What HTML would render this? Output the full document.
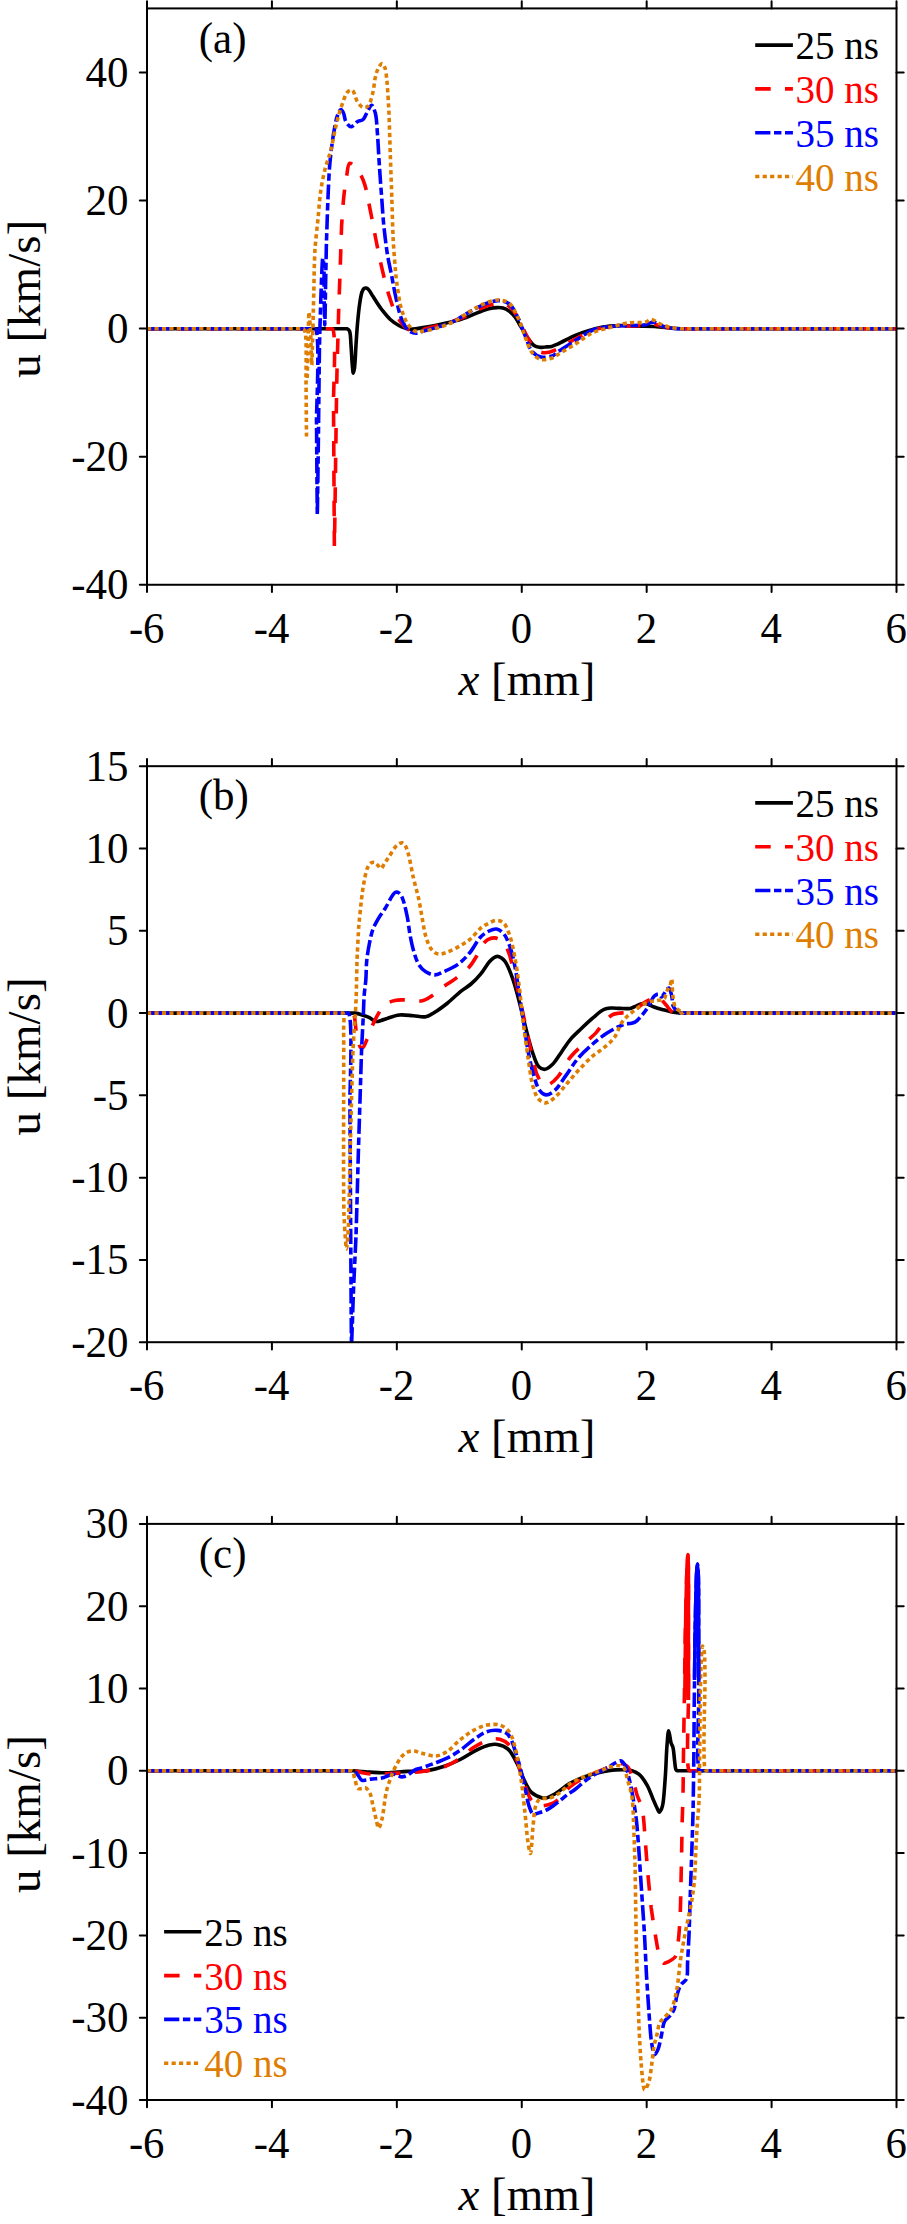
<!DOCTYPE html><html><head><meta charset="utf-8"><style>html,body{margin:0;padding:0;background:#fff;}svg{display:block;}text{font-family:"Liberation Serif","Times New Roman",serif;}</style></head><body>
<svg width="907" height="2224" viewBox="0 0 907 2224">
<rect width="907" height="2224" fill="#fff"/>
<clipPath id="clipa"><rect x="147.0" y="8.42" width="749.5" height="576.34"/></clipPath>
<g clip-path="url(#clipa)" stroke-linejoin="round">
<path d="M147.0,328.8L347.3,328.8C348.2,329.2 349.1,330.1 349.5,331.0C350.7,333.6 350.6,339.9 351.0,345.0C351.5,351.1 351.8,359.8 352.3,365.0C352.6,368.2 352.9,373.1 353.3,373.1C353.6,373.1 354.2,370.0 354.5,368.0C355.2,363.1 355.5,352.4 356.0,345.0C356.5,338.1 356.8,331.7 357.4,325.0C358.0,318.3 358.6,310.9 359.5,305.0C360.2,300.2 360.9,294.9 362.0,292.0C362.5,290.5 363.2,289.1 364.0,288.5C364.6,288.1 365.3,287.9 366.0,288.0C366.8,288.1 367.7,288.7 368.5,289.5C370.0,290.9 371.3,293.9 373.1,296.6C375.5,300.3 378.7,305.6 381.7,309.5C384.5,313.1 387.2,316.7 390.3,319.5C393.0,322.0 396.2,324.0 398.9,325.5C401.0,326.7 403.0,327.4 405.0,328.0C406.9,328.6 408.4,329.1 410.6,329.2C414.5,329.3 421.1,327.9 426.5,327.0C432.2,326.0 438.2,324.8 444.1,323.5C450.0,322.2 455.9,321.0 461.7,319.1C467.7,317.2 474.2,313.9 479.4,312.0C483.4,310.6 486.8,309.2 490.0,308.5C492.5,307.9 494.8,307.7 497.0,307.6C499.1,307.5 501.0,307.5 503.0,308.0C505.2,308.6 507.4,309.8 509.4,311.2C511.5,312.7 513.3,314.8 515.0,317.0C516.9,319.4 518.1,322.2 520.0,325.3C522.5,329.4 526.1,335.7 528.8,339.4C530.6,341.9 532.0,344.2 534.0,345.5C535.6,346.6 537.6,347.1 539.4,347.3C541.2,347.5 543.1,347.1 545.0,347.0C547.1,346.8 549.6,346.9 551.7,346.4C553.8,345.9 555.3,345.1 557.6,344.1C562.0,342.2 569.9,337.6 575.3,335.3C579.7,333.4 583.3,332.2 587.6,330.9C592.1,329.5 596.7,328.2 601.7,327.3C607.2,326.3 613.5,325.8 619.4,325.6C625.3,325.4 631.1,326.0 637.0,326.1C642.9,326.3 648.8,326.1 654.7,326.5C660.6,326.9 667.4,327.8 672.3,328.2C675.7,328.5 678.9,328.7 681.1,328.8L896.5,328.8" stroke="#000" stroke-width="3.6" fill="none"/>
<path d="M147.0,328.8L332.5,328.8C336.6,332.8 333.4,391.9 333.5,400.0C333.6,412.2 334.3,546.5 334.4,546.5C334.5,546.5 335.4,478.4 335.5,470.0C335.6,460.7 336.6,389.3 336.8,380.0C336.9,373.8 337.8,341.2 338.0,335.0C338.1,330.7 338.6,313.8 338.7,309.5C339.1,297.6 340.0,275.0 340.2,269.3C340.4,263.3 341.3,232.3 341.6,226.3C341.8,221.6 343.2,202.3 343.7,197.7C344.5,190.0 345.5,182.4 346.6,176.2C347.5,171.3 347.8,164.1 349.5,163.3C350.4,162.9 351.9,164.1 353.0,165.0C354.6,166.3 356.0,169.2 357.4,171.0C358.6,172.6 360.0,173.9 361.0,175.5C361.9,176.9 362.4,178.2 363.1,180.0C364.1,182.5 365.2,185.9 366.0,189.0C366.8,192.2 367.2,195.1 368.0,199.0C369.1,204.5 370.7,212.2 372.0,219.0C373.3,225.9 374.6,232.9 376.0,240.0C377.4,247.3 378.9,254.6 380.5,262.0C382.2,269.6 384.2,278.2 386.0,285.0C387.5,290.6 388.9,295.2 390.5,300.0C391.9,304.4 393.3,308.8 395.0,312.5C396.5,315.7 398.3,318.5 400.0,321.0C401.5,323.2 403.0,325.1 404.7,326.7C406.3,328.2 408.1,329.7 410.0,330.5C411.9,331.3 413.7,331.6 416.0,331.5C419.0,331.3 422.5,329.6 426.5,328.5C431.6,327.1 438.3,325.7 444.1,324.0C450.0,322.2 455.9,320.4 461.7,318.0C467.7,315.5 474.2,311.3 479.4,309.0C483.3,307.3 486.3,306.0 490.0,305.0C493.9,304.0 498.8,302.7 502.3,303.2C505.1,303.6 507.3,304.9 509.4,306.5C511.6,308.1 513.3,310.6 515.0,313.0C516.9,315.7 518.2,318.5 520.0,322.0C522.6,326.9 526.0,335.0 528.8,340.0C530.9,343.7 532.4,347.4 535.0,349.5C537.2,351.3 540.3,352.2 542.9,352.6C545.3,352.9 547.6,352.6 550.0,352.0C552.5,351.4 554.7,350.4 557.6,349.0C562.3,346.7 569.4,342.2 575.3,339.0C581.1,335.9 586.9,332.0 592.9,330.0C598.7,328.1 604.7,327.5 610.6,326.8C616.5,326.1 622.3,326.2 628.2,326.0C634.1,325.8 641.3,326.0 645.8,325.5C648.6,325.2 650.3,323.9 652.9,324.0C656.1,324.1 660.0,326.0 663.5,326.8C667.0,327.5 670.8,328.2 674.0,328.5C676.6,328.8 679.2,328.8 681.0,328.8L896.5,328.8" stroke="#ff0000" stroke-width="3.6" fill="none" stroke-dasharray="15.5 14.3"/>
<path d="M147.0,328.8L315.5,328.8C320.2,333.5 316.4,410.7 316.5,420.0C316.6,429.6 317.2,515.0 317.3,515.0C317.4,515.0 318.4,439.0 318.5,430.0C318.6,421.0 319.3,354.0 319.5,345.0C319.6,339.7 320.3,315.3 320.5,310.0C320.6,305.2 321.3,284.8 321.5,280.0C321.7,276.0 322.3,258.0 322.8,258.0C323.0,258.0 323.5,260.8 323.6,262.0C324.3,268.2 324.0,288.7 324.2,300.0C324.3,304.3 324.7,325.0 324.8,325.0C325.0,325.0 325.4,295.3 325.5,290.0C325.6,283.5 326.3,247.2 326.5,240.7C326.7,234.7 327.7,203.7 328.0,197.7C328.2,193.0 329.0,173.7 329.4,169.0C330.0,161.3 330.7,154.4 331.6,147.5C332.4,141.1 333.3,134.5 334.4,128.9C335.3,124.2 336.0,119.5 337.3,116.0C338.3,113.4 339.7,109.6 340.9,109.5C341.8,109.4 342.8,111.5 343.5,113.0C344.6,115.2 344.5,119.3 345.9,121.7C347.1,123.8 349.4,126.5 350.9,126.7C352.0,126.9 353.0,125.7 354.0,125.0C355.2,124.1 356.0,122.6 357.4,121.7C359.0,120.7 361.5,120.9 363.1,119.5C365.2,117.6 366.5,112.8 368.1,110.2C369.3,108.2 370.6,105.1 371.7,105.2C373.0,105.3 374.4,109.9 375.3,113.1C376.7,118.2 377.1,129.5 377.4,133.2C378.2,143.4 378.8,157.7 379.6,169.0C379.9,173.7 381.3,193.0 381.7,197.7C382.4,207.2 382.9,216.8 383.9,226.3C384.9,235.9 386.1,246.1 387.5,255.0C388.8,262.7 390.4,269.3 391.8,276.5C393.2,283.7 394.3,290.9 396.0,298.0C397.7,305.2 399.2,313.6 401.8,319.5C403.8,324.1 406.1,328.8 409.0,331.0C411.1,332.6 413.8,333.1 416.1,333.1C418.2,333.1 419.7,332.1 422.0,331.5C425.5,330.5 430.6,329.4 435.3,327.9C440.8,326.2 447.2,324.5 452.9,321.8C458.9,319.0 465.0,314.3 470.6,311.2C475.5,308.5 479.9,305.9 484.7,304.1C489.3,302.4 494.5,300.4 498.8,300.6C502.6,300.7 506.4,301.7 509.4,304.1C513.1,307.0 515.6,313.1 518.2,318.2C520.9,323.7 522.8,330.2 525.2,335.9C527.5,341.3 529.1,348.1 532.3,351.7C534.8,354.5 537.8,356.3 541.1,357.0C544.8,357.8 550.6,356.6 553.5,355.3C555.3,354.5 555.9,353.2 557.6,352.0C561.4,349.3 569.4,344.3 575.3,340.6C581.1,337.0 586.8,332.4 592.9,330.0C598.6,327.8 604.7,327.2 610.6,326.5C616.4,325.8 622.3,325.9 628.2,325.6C634.1,325.3 641.3,325.6 645.8,324.7C648.7,324.1 650.3,322.0 652.9,322.0C656.1,322.1 659.9,325.4 663.5,326.5C667.0,327.5 670.8,328.1 674.0,328.5C676.6,328.8 679.2,328.8 681.0,328.8L896.5,328.8" stroke="#0000ff" stroke-width="3.6" fill="none" stroke-dasharray="15.2 3.6 7.4 3.6"/>
<path d="M147.0,328.8L303.5,328.8C304.5,329.4 305.0,331.7 305.3,333.0C306.8,340.1 305.9,373.7 306.0,380.0C306.1,387.0 306.4,429.4 306.5,436.4M307.2,378.0C307.3,372.9 307.9,350.1 308.0,345.0C308.1,339.9 308.7,312.0 309.0,312.0C309.2,312.0 310.3,326.5 310.5,330.0C311.1,339.7 311.4,365.0 311.8,365.0C311.9,365.0 312.5,344.3 312.6,340.0C312.9,330.9 313.1,320.6 313.3,312.0C313.5,304.8 313.7,295.7 313.8,292.0C314.1,280.1 314.2,260.9 315.1,247.8C315.4,243.1 317.5,223.7 318.0,219.0C318.9,209.5 319.5,199.3 320.8,190.5C321.9,182.8 323.4,175.9 325.1,169.0C326.7,162.5 329.1,157.1 330.8,150.4C332.7,142.9 334.0,133.7 335.9,126.0C337.6,119.0 339.4,112.1 341.6,106.0C343.5,100.7 345.5,93.8 348.0,91.6C349.2,90.5 351.1,89.7 352.3,90.2C354.4,91.1 355.3,98.6 357.4,101.6C359.1,104.0 361.1,106.9 363.1,107.4C364.7,107.8 366.8,107.2 368.1,106.0C370.2,104.1 371.2,98.9 372.4,94.5C374.0,88.8 374.5,79.6 376.0,74.4C377.0,71.0 378.1,67.9 379.5,66.0C380.3,64.9 381.5,63.4 382.4,63.6C383.4,63.8 384.3,66.2 385.0,68.0C386.0,70.7 386.4,76.2 386.7,78.7C387.6,86.7 388.6,106.6 388.9,111.7C389.2,117.7 390.1,148.7 390.3,154.7C390.5,160.7 391.6,191.7 391.8,197.7C392.0,203.7 392.9,234.7 393.2,240.7C393.5,246.1 395.4,271.2 396.0,276.5C396.5,281.2 399.2,300.7 400.4,305.2C402.2,312.2 404.6,319.3 407.5,323.8C409.6,327.0 412.3,329.9 414.7,331.0C416.5,331.8 417.9,331.6 420.0,331.5C423.8,331.3 430.1,330.0 435.3,328.5C441.0,326.9 447.2,324.8 452.9,322.0C458.9,319.0 465.0,314.2 470.6,311.0C475.5,308.2 479.9,305.3 484.7,303.5C489.3,301.7 494.5,299.8 498.8,300.0C502.6,300.1 506.4,301.1 509.4,303.5C513.1,306.5 515.6,312.9 518.2,318.2C521.0,324.0 522.8,331.0 525.2,337.0C527.5,342.6 529.2,349.1 532.3,353.0C534.8,356.1 537.7,358.7 541.1,359.5C544.7,360.4 550.6,358.7 553.5,357.5C555.3,356.8 556.0,355.7 557.6,354.7C561.4,352.3 569.4,347.8 575.3,344.1C581.2,340.4 586.8,335.4 592.9,332.6C598.6,329.9 604.7,328.9 610.6,327.3C616.5,325.7 622.3,323.8 628.2,322.9C634.0,322.0 641.7,323.1 645.8,322.0C648.0,321.4 649.1,319.4 651.1,319.4C653.7,319.4 656.9,322.5 660.0,323.8C663.3,325.2 667.0,326.5 670.5,327.3C674.0,328.1 678.6,328.6 681.0,328.8L896.5,328.8" stroke="#de7d00" stroke-width="3.6" fill="none" stroke-dasharray="4.2 3.25"/>
</g>
<rect x="147.0" y="8.42" width="749.5" height="576.34" fill="none" stroke="#000" stroke-width="2.0"/>
<path d="M147.00,584.76v7.2M147.00,8.42v-7.2M271.92,584.76v7.2M271.92,8.42v-7.2M396.83,584.76v7.2M396.83,8.42v-7.2M521.75,584.76v7.2M521.75,8.42v-7.2M646.67,584.76v7.2M646.67,8.42v-7.2M771.58,584.76v7.2M771.58,8.42v-7.2M896.50,584.76v7.2M896.50,8.42v-7.2M147.00,584.76h-7.2M896.50,584.76h7.2M147.00,456.68h-7.2M896.50,456.68h7.2M147.00,328.61h-7.2M896.50,328.61h7.2M147.00,200.53h-7.2M896.50,200.53h7.2M147.00,72.46h-7.2M896.50,72.46h7.2" stroke="#000" stroke-width="2.0" fill="none" stroke-linecap="round"/>
<text transform="translate(146.7,642.8) scale(0.95,1)" font-size="45" text-anchor="middle">-6</text>
<text transform="translate(271.6,642.8) scale(0.95,1)" font-size="45" text-anchor="middle">-4</text>
<text transform="translate(396.5,642.8) scale(0.95,1)" font-size="45" text-anchor="middle">-2</text>
<text transform="translate(521.5,642.8) scale(0.95,1)" font-size="45" text-anchor="middle">0</text>
<text transform="translate(646.4,642.8) scale(0.95,1)" font-size="45" text-anchor="middle">2</text>
<text transform="translate(771.3,642.8) scale(0.95,1)" font-size="45" text-anchor="middle">4</text>
<text transform="translate(896.2,642.8) scale(0.95,1)" font-size="45" text-anchor="middle">6</text>
<text transform="translate(128.6,599.3) scale(0.95,1)" font-size="45.3" text-anchor="end">-40</text>
<text transform="translate(128.6,471.2) scale(0.95,1)" font-size="45.3" text-anchor="end">-20</text>
<text transform="translate(128.6,343.1) scale(0.95,1)" font-size="45.3" text-anchor="end">0</text>
<text transform="translate(128.6,215.0) scale(0.95,1)" font-size="45.3" text-anchor="end">20</text>
<text transform="translate(128.6,87.0) scale(0.95,1)" font-size="45.3" text-anchor="end">40</text>
<text x="527.0" y="694.6" font-size="47" text-anchor="middle"><tspan font-style="italic">x</tspan> [mm]</text>
<text transform="translate(40,298.8) rotate(-90)" font-size="47" text-anchor="middle">u [km/s]</text>
<text transform="translate(198.8,52.6) scale(0.955,1)" font-size="45">(a)</text>
<path d="M755.2,45.1H792.9" stroke="#000" stroke-width="3.6" fill="none"/>
<text x="795.5" y="59.1" font-size="39" fill="#000000">25 ns</text>
<path d="M755.2,88.9H792.9" stroke="#ff0000" stroke-width="3.6" fill="none" stroke-dasharray="15.5 14.3"/>
<text x="795.5" y="102.9" font-size="39" fill="#ff0000">30 ns</text>
<path d="M755.2,132.7H792.9" stroke="#0000ff" stroke-width="3.6" fill="none" stroke-dasharray="15.2 3.6 7.4 3.6"/>
<text x="795.5" y="146.7" font-size="39" fill="#0000ff">35 ns</text>
<path d="M755.2,176.5H792.9" stroke="#de7d00" stroke-width="3.6" fill="none" stroke-dasharray="4.2 3.25"/>
<text x="795.5" y="190.5" font-size="39" fill="#de7d00">40 ns</text>
<clipPath id="clipb"><rect x="147.0" y="766.18" width="749.5" height="576.0300000000001"/></clipPath>
<g clip-path="url(#clipb)" stroke-linejoin="round">
<path d="M147.0,1013.1L355.3,1013.1C357.2,1013.3 360.5,1014.4 362.3,1015.0C364.7,1015.8 367.2,1016.5 369.4,1017.6C371.6,1018.7 373.4,1021.1 375.5,1021.5C377.3,1021.9 379.1,1021.0 381.0,1020.5C383.0,1020.0 384.6,1019.1 387.0,1018.4C390.4,1017.3 395.1,1015.5 399.4,1015.0C403.9,1014.5 409.0,1015.5 413.5,1015.8C417.7,1016.1 422.1,1017.4 425.8,1016.7C429.1,1016.1 431.6,1014.2 434.7,1012.3C438.6,1010.0 442.8,1006.8 447.0,1003.5C451.6,999.8 456.7,994.6 461.1,991.1C464.6,988.3 467.8,986.7 471.0,984.0C474.4,981.1 477.6,977.7 480.6,974.1C483.8,970.3 486.9,964.5 489.4,961.7C490.8,960.1 492.1,958.9 493.5,958.0C494.7,957.2 496.0,956.4 497.3,956.4C498.7,956.4 500.2,957.2 501.5,958.0C502.9,958.9 504.1,960.0 505.3,961.7C507.6,965.0 510.3,972.1 512.3,977.6C514.4,983.3 515.9,989.1 517.6,995.3C519.4,1002.0 521.1,1009.4 522.9,1016.4C524.7,1023.5 526.4,1030.9 528.2,1037.6C529.9,1043.8 531.5,1050.0 533.5,1055.2C535.1,1059.5 536.4,1064.4 538.8,1066.7C540.5,1068.4 542.9,1069.5 545.0,1069.3C547.5,1069.1 550.4,1066.4 552.9,1064.0C556.0,1060.9 558.8,1055.8 561.7,1051.7C564.6,1047.6 567.3,1043.2 570.5,1039.4C573.7,1035.6 577.4,1032.4 581.1,1028.8C585.0,1025.0 589.4,1020.7 593.5,1017.3C597.1,1014.3 600.8,1010.9 604.1,1009.4C606.5,1008.3 608.6,1008.2 611.1,1008.0C613.9,1007.8 616.9,1008.3 620.0,1008.4C623.3,1008.5 627.4,1009.0 630.3,1008.4C632.7,1007.9 634.6,1006.6 636.5,1005.8C638.1,1005.1 639.5,1004.4 641.0,1004.0C642.4,1003.6 643.9,1003.3 645.3,1003.5C646.7,1003.7 648.1,1004.4 649.5,1005.0C651.0,1005.6 652.3,1006.3 654.1,1007.0C656.5,1007.9 660.0,1008.9 662.9,1009.7C665.8,1010.5 669.0,1011.4 671.7,1011.9C673.9,1012.3 676.4,1012.6 677.9,1012.8C678.7,1012.9 679.2,1013.0 680.0,1013.1L896.5,1013.1" stroke="#000" stroke-width="3.6" fill="none"/>
<path d="M147.0,1013.1L353.0,1013.1C353.9,1013.7 354.2,1015.8 354.5,1017.0C355.2,1020.0 355.4,1025.9 356.0,1030.0C356.6,1033.8 357.0,1037.8 358.0,1041.0C358.8,1043.6 359.7,1047.5 361.0,1048.0C361.7,1048.3 362.8,1047.7 363.5,1047.0C364.8,1045.8 365.5,1042.7 366.7,1040.0C368.3,1036.2 370.1,1030.8 372.0,1026.4C373.9,1022.1 376.1,1017.5 378.2,1014.0C379.8,1011.3 381.1,1008.9 383.0,1007.0C384.7,1005.2 386.7,1003.7 388.8,1002.6C390.8,1001.6 392.9,1000.9 395.0,1000.5C397.0,1000.1 398.7,1000.0 401.1,999.9C404.5,999.8 409.7,1000.1 413.5,1000.3C416.7,1000.4 419.4,1001.4 422.3,1000.8C425.3,1000.2 428.0,998.3 431.1,996.4C435.0,993.9 439.5,989.6 443.5,986.7C447.1,984.1 450.4,982.3 454.1,979.6C458.5,976.3 464.4,972.3 468.2,968.2C471.5,964.7 474.0,960.7 476.1,957.0C478.0,953.8 478.7,950.5 480.6,947.6C482.5,944.7 485.0,941.3 487.6,939.7C489.8,938.4 492.3,937.6 494.7,937.9C497.5,938.2 501.2,940.0 503.5,942.3C506.0,944.8 507.2,948.6 508.8,952.9C511.4,959.9 514.8,976.5 515.9,981.1C518.3,991.4 521.8,1008.0 522.9,1012.9C524.0,1018.0 528.8,1041.3 530.0,1046.4C531.1,1051.0 535.1,1070.4 537.0,1074.6C539.0,1079.1 541.5,1084.1 544.1,1085.2C545.7,1085.9 547.6,1085.2 549.4,1084.3C552.1,1083.0 555.3,1079.9 558.2,1076.4C562.3,1071.6 565.9,1062.7 570.5,1057.0C574.8,1051.7 580.2,1047.1 584.7,1042.9C588.5,1039.3 592.3,1036.8 595.7,1033.1C599.3,1029.2 602.5,1023.5 605.8,1020.2C608.2,1017.7 610.5,1015.6 612.9,1014.5C614.8,1013.6 616.7,1013.5 618.8,1013.2C621.1,1012.8 623.6,1012.9 626.0,1012.5C628.6,1012.1 631.5,1011.6 633.8,1010.6C635.8,1009.7 637.3,1008.3 639.0,1007.0C640.8,1005.6 642.5,1003.9 644.4,1002.6C646.2,1001.4 648.3,1000.3 650.0,999.5C651.4,998.8 652.7,998.2 654.0,997.8C655.1,997.4 656.0,996.9 657.0,997.0C658.0,997.1 659.0,997.8 660.0,998.5C661.3,999.4 662.7,1001.1 664.0,1002.5C665.4,1004.0 666.8,1005.8 668.0,1007.3C669.1,1008.6 669.9,1010.1 671.0,1011.0C671.9,1011.8 672.9,1012.4 674.0,1012.8C675.2,1013.2 676.8,1013.1 678.0,1013.1L896.5,1013.1" stroke="#ff0000" stroke-width="3.6" fill="none" stroke-dasharray="15.5 14.3"/>
<path d="M147.0,1013.1L348.5,1013.1C353.1,1017.6 349.8,1090.9 349.9,1100.0C350.0,1112.4 350.7,1237.6 350.8,1250.0C350.9,1259.6 351.3,1345.0 351.5,1345.0C351.7,1345.0 353.2,1296.9 353.5,1290.0C353.8,1283.1 355.7,1242.9 356.0,1236.0C356.3,1227.9 357.8,1173.1 358.0,1165.0C358.2,1157.0 359.9,1102.5 360.2,1094.5C360.4,1088.1 361.4,1053.4 361.7,1047.0C361.9,1042.1 363.1,1020.6 363.3,1015.7C363.5,1012.1 363.8,1000.0 364.1,996.4C364.5,990.4 365.5,984.7 365.9,978.8C366.3,972.9 366.1,967.0 366.7,961.1C367.3,955.2 368.3,949.0 369.4,943.5C370.4,938.5 371.3,933.7 372.9,929.4C374.3,925.5 376.2,922.3 378.2,918.8C380.3,915.2 383.0,911.9 385.3,908.2C387.7,904.3 390.4,898.6 392.3,895.8C393.2,894.4 394.0,893.0 395.0,892.5C395.8,892.1 396.8,892.1 397.6,892.3C398.6,892.6 399.7,893.5 400.5,894.5C401.5,895.7 402.2,897.4 402.9,899.4C404.4,903.4 406.1,911.1 407.3,917.0C408.5,922.9 408.9,929.0 410.0,934.7C411.0,940.1 412.0,945.4 413.5,950.5C415.0,955.4 416.4,960.9 418.8,964.6C420.7,967.6 423.1,970.0 425.8,971.7C428.4,973.4 431.7,974.9 434.7,974.9C437.6,974.9 440.3,973.1 443.5,971.7C447.7,969.9 453.3,967.7 457.6,964.6C462.1,961.4 466.2,957.0 470.0,952.5C473.9,947.8 476.9,940.8 480.6,937.0C483.4,934.2 486.5,932.2 489.4,930.9C491.8,929.8 494.2,928.7 496.5,929.1C498.9,929.5 501.5,931.3 503.5,933.5C506.1,936.4 507.9,941.1 509.7,945.9C511.9,951.9 513.5,959.4 515.0,967.0C516.8,975.7 517.9,985.9 519.4,995.3C520.9,1004.7 522.3,1014.1 523.8,1023.5C525.3,1032.9 526.5,1042.8 528.2,1051.7C529.8,1059.8 531.4,1067.7 533.5,1074.6C535.3,1080.5 537.0,1087.1 539.7,1090.5C541.4,1092.7 543.6,1094.7 545.9,1094.9C548.5,1095.1 551.9,1092.8 554.7,1090.5C558.5,1087.4 561.7,1081.4 565.3,1076.4C569.3,1070.9 573.3,1064.0 577.6,1058.8C581.5,1054.1 585.6,1050.3 590.0,1046.4C594.4,1042.4 599.9,1038.0 604.1,1035.0C607.3,1032.7 610.3,1031.0 613.0,1029.5C615.2,1028.3 617.0,1027.4 619.0,1026.5C621.0,1025.6 622.9,1024.5 625.0,1024.0C627.1,1023.5 629.7,1023.8 631.6,1023.3C633.2,1022.9 634.7,1022.4 636.0,1021.5C637.5,1020.5 638.6,1019.0 640.0,1017.5C641.7,1015.6 643.6,1013.3 645.3,1011.0C647.1,1008.5 648.6,1005.6 650.2,1003.0C651.7,1000.5 652.8,997.2 654.5,995.8C655.8,994.7 657.6,993.9 658.8,994.2C659.9,994.4 660.8,997.1 661.7,997.0C662.7,996.9 663.4,994.4 664.5,993.0C665.7,991.4 667.6,987.8 668.8,988.0C670.1,988.2 671.0,993.0 671.7,995.8C672.5,998.9 672.1,1003.3 673.1,1005.9C673.8,1007.7 674.9,1009.0 676.0,1010.2C676.9,1011.2 678.1,1012.1 679.0,1012.6C679.7,1012.9 680.3,1013.0 681.0,1013.1L896.5,1013.1" stroke="#0000ff" stroke-width="3.6" fill="none" stroke-dasharray="15.2 3.6 7.4 3.6"/>
<path d="M147.0,1013.1L343.0,1013.1C344.7,1014.8 343.5,1026.7 343.6,1030.0C344.1,1058.6 343.0,1181.9 344.0,1215.0C344.1,1219.3 345.1,1235.7 345.5,1240.0C345.8,1243.5 346.1,1249.0 346.5,1249.0C347.0,1249.0 347.8,1238.0 348.0,1235.0C349.0,1219.9 349.8,1168.3 350.0,1160.0C350.2,1152.7 351.3,1107.3 351.5,1100.0C351.7,1093.4 352.7,1056.6 353.0,1050.0C353.2,1045.7 354.2,1029.3 354.5,1025.0C354.8,1020.3 355.1,1017.3 355.4,1013.0C355.7,1007.9 356.1,999.7 356.2,996.4C356.5,986.8 356.8,966.4 357.0,961.1C357.2,955.8 358.4,931.1 358.8,925.8C359.1,921.4 361.0,903.8 361.5,899.4C362.3,892.9 363.0,887.2 364.1,881.7C365.1,876.7 366.0,870.9 367.6,867.6C368.5,865.6 369.7,863.8 371.0,863.0C372.1,862.3 373.6,862.0 374.7,862.3C375.9,862.7 376.9,864.4 378.0,865.5C379.0,866.5 379.9,868.6 380.9,868.5C382.1,868.4 383.3,865.3 384.5,863.5C385.9,861.5 387.1,859.5 388.8,857.0C391.2,853.5 394.7,846.9 397.6,844.7C399.3,843.5 401.5,842.5 402.9,842.9C404.1,843.2 404.7,844.7 405.5,846.0C406.6,847.9 407.3,850.5 408.2,853.5C409.9,859.3 411.7,870.3 413.5,878.2C415.2,885.6 417.3,892.5 418.8,899.4C420.2,906.0 421.1,912.5 422.3,918.8C423.4,924.8 424.2,931.1 425.8,936.4C427.2,941.0 428.7,945.7 431.1,948.8C433.0,951.3 435.6,953.5 438.2,954.1C440.9,954.7 443.8,953.4 447.0,952.3C451.2,950.8 456.9,947.7 461.1,945.2C464.8,943.0 467.9,941.2 471.0,938.5C474.4,935.6 477.5,930.8 480.6,928.2C483.0,926.2 485.1,925.1 487.6,923.8C490.3,922.4 493.7,920.3 496.5,920.3C499.0,920.3 501.5,921.1 503.5,922.9C506.2,925.3 507.9,930.4 509.7,935.3C512.0,941.7 514.2,954.2 515.0,958.2C516.8,967.5 518.8,983.4 519.4,988.2C520.0,993.2 522.3,1015.0 522.9,1020.0C523.6,1025.6 527.4,1053.2 528.2,1058.8C528.9,1063.2 531.3,1080.9 532.6,1085.2C534.3,1090.8 536.0,1096.4 538.8,1099.3C540.8,1101.4 543.4,1103.0 545.9,1102.9C548.7,1102.8 551.7,1100.1 554.7,1097.6C558.7,1094.2 562.9,1088.2 567.0,1083.5C571.1,1078.8 575.1,1073.9 579.4,1069.3C583.8,1064.6 588.7,1059.4 593.2,1055.6C597.0,1052.4 600.8,1050.4 604.3,1047.4C607.9,1044.4 611.6,1041.4 614.4,1037.5C617.4,1033.3 619.1,1026.7 621.5,1023.0C623.1,1020.5 624.7,1018.8 626.5,1017.0C628.2,1015.3 630.2,1013.7 632.0,1012.3C633.6,1011.0 634.8,1010.0 636.5,1008.8C638.4,1007.4 640.8,1005.7 643.0,1004.5C645.2,1003.3 647.4,1002.3 649.7,1001.7C651.9,1001.1 654.3,1001.1 656.5,1000.7C658.7,1000.3 661.6,999.7 663.0,999.1C663.7,998.8 664.3,998.6 664.7,998.0C665.5,996.9 665.6,994.0 666.4,992.0C667.3,989.9 669.1,988.1 670.0,985.9C670.9,983.7 671.3,978.8 671.7,978.8C672.3,978.9 672.2,989.0 672.6,992.9C672.9,995.7 673.1,997.7 673.5,1000.0C674.0,1002.4 674.1,1005.1 675.3,1007.0C676.5,1008.9 679.0,1010.4 680.5,1011.4C681.4,1012.0 683.1,1012.5 683.0,1012.8C683.0,1013.0 681.0,1013.0 681.0,1013.1L896.5,1013.1" stroke="#de7d00" stroke-width="3.6" fill="none" stroke-dasharray="4.2 3.25"/>
</g>
<rect x="147.0" y="766.18" width="749.5" height="576.0300000000001" fill="none" stroke="#000" stroke-width="2.0"/>
<path d="M147.00,1342.21v7.2M147.00,766.18v-7.2M271.92,1342.21v7.2M271.92,766.18v-7.2M396.83,1342.21v7.2M396.83,766.18v-7.2M521.75,1342.21v7.2M521.75,766.18v-7.2M646.67,1342.21v7.2M646.67,766.18v-7.2M771.58,1342.21v7.2M771.58,766.18v-7.2M896.50,1342.21v7.2M896.50,766.18v-7.2M147.00,1342.21h-7.2M896.50,1342.21h7.2M147.00,1259.92h-7.2M896.50,1259.92h7.2M147.00,1177.63h-7.2M896.50,1177.63h7.2M147.00,1095.34h-7.2M896.50,1095.34h7.2M147.00,1013.05h-7.2M896.50,1013.05h7.2M147.00,930.76h-7.2M896.50,930.76h7.2M147.00,848.47h-7.2M896.50,848.47h7.2M147.00,766.18h-7.2M896.50,766.18h7.2" stroke="#000" stroke-width="2.0" fill="none" stroke-linecap="round"/>
<text transform="translate(146.7,1400.2) scale(0.95,1)" font-size="45" text-anchor="middle">-6</text>
<text transform="translate(271.6,1400.2) scale(0.95,1)" font-size="45" text-anchor="middle">-4</text>
<text transform="translate(396.5,1400.2) scale(0.95,1)" font-size="45" text-anchor="middle">-2</text>
<text transform="translate(521.5,1400.2) scale(0.95,1)" font-size="45" text-anchor="middle">0</text>
<text transform="translate(646.4,1400.2) scale(0.95,1)" font-size="45" text-anchor="middle">2</text>
<text transform="translate(771.3,1400.2) scale(0.95,1)" font-size="45" text-anchor="middle">4</text>
<text transform="translate(896.2,1400.2) scale(0.95,1)" font-size="45" text-anchor="middle">6</text>
<text transform="translate(128.6,1356.7) scale(0.95,1)" font-size="45.3" text-anchor="end">-20</text>
<text transform="translate(128.6,1274.4) scale(0.95,1)" font-size="45.3" text-anchor="end">-15</text>
<text transform="translate(128.6,1192.1) scale(0.95,1)" font-size="45.3" text-anchor="end">-10</text>
<text transform="translate(128.6,1109.8) scale(0.95,1)" font-size="45.3" text-anchor="end">-5</text>
<text transform="translate(128.6,1027.5) scale(0.95,1)" font-size="45.3" text-anchor="end">0</text>
<text transform="translate(128.6,945.3) scale(0.95,1)" font-size="45.3" text-anchor="end">5</text>
<text transform="translate(128.6,863.0) scale(0.95,1)" font-size="45.3" text-anchor="end">10</text>
<text transform="translate(128.6,780.7) scale(0.95,1)" font-size="45.3" text-anchor="end">15</text>
<text x="527.0" y="1452.0" font-size="47" text-anchor="middle"><tspan font-style="italic">x</tspan> [mm]</text>
<text transform="translate(40,1056.4) rotate(-90)" font-size="47" text-anchor="middle">u [km/s]</text>
<text transform="translate(198.8,810.4) scale(0.955,1)" font-size="45">(b)</text>
<path d="M755.2,802.9H792.9" stroke="#000" stroke-width="3.6" fill="none"/>
<text x="795.5" y="816.9" font-size="39" fill="#000000">25 ns</text>
<path d="M755.2,846.7H792.9" stroke="#ff0000" stroke-width="3.6" fill="none" stroke-dasharray="15.5 14.3"/>
<text x="795.5" y="860.7" font-size="39" fill="#ff0000">30 ns</text>
<path d="M755.2,890.5H792.9" stroke="#0000ff" stroke-width="3.6" fill="none" stroke-dasharray="15.2 3.6 7.4 3.6"/>
<text x="795.5" y="904.5" font-size="39" fill="#0000ff">35 ns</text>
<path d="M755.2,934.3H792.9" stroke="#de7d00" stroke-width="3.6" fill="none" stroke-dasharray="4.2 3.25"/>
<text x="795.5" y="948.3" font-size="39" fill="#de7d00">40 ns</text>
<clipPath id="clipc"><rect x="147.0" y="1523.89" width="749.5" height="576.1099999999999"/></clipPath>
<g clip-path="url(#clipc)" stroke-linejoin="round">
<path d="M147.0,1770.7L353.0,1770.7C356.0,1770.8 364.6,1771.8 367.6,1772.0C373.4,1772.4 379.8,1772.9 386.2,1772.8C393.0,1772.7 400.5,1771.7 407.3,1771.4C413.7,1771.1 419.7,1771.7 425.8,1770.9C432.0,1770.0 438.5,1768.2 444.4,1766.2C450.0,1764.3 455.0,1762.1 460.2,1759.5C465.6,1756.8 470.9,1752.8 476.1,1750.3C480.6,1748.1 485.5,1745.9 489.4,1745.0C492.3,1744.3 494.5,1744.0 497.3,1744.5C500.6,1745.1 504.8,1746.4 507.9,1749.0C511.7,1752.2 514.5,1758.4 517.1,1763.5C519.8,1768.6 521.3,1774.4 523.8,1779.4C526.2,1784.1 528.3,1789.5 531.7,1792.6C534.7,1795.3 539.6,1797.2 542.3,1797.9C543.7,1798.2 544.6,1798.3 546.0,1798.0C548.6,1797.5 552.4,1795.3 555.9,1793.3C560.2,1790.7 564.9,1786.2 569.8,1783.4C574.8,1780.6 580.4,1778.3 585.6,1776.4C590.3,1774.7 594.7,1773.5 599.5,1772.4C604.6,1771.3 610.1,1770.2 615.4,1769.9C620.7,1769.6 627.0,1769.4 631.3,1770.5C634.5,1771.3 636.8,1772.4 639.2,1774.4C642.2,1776.9 644.9,1781.3 647.2,1785.3C649.6,1789.5 651.3,1795.1 653.1,1799.2C654.5,1802.5 655.8,1805.6 657.0,1808.0C657.8,1809.6 658.5,1812.1 659.3,1812.1C660.0,1812.1 660.9,1810.3 661.5,1809.0C662.2,1807.4 662.6,1805.5 663.0,1803.2C664.0,1797.4 664.7,1784.8 665.4,1775.4C666.1,1765.6 666.3,1753.8 667.0,1745.6C667.5,1739.8 668.0,1730.8 668.6,1730.8C669.0,1730.8 669.6,1735.0 670.0,1737.0C670.4,1738.9 670.5,1740.9 671.0,1742.7C671.5,1744.4 672.5,1745.6 673.0,1747.6C673.8,1750.7 674.0,1756.1 674.5,1760.0C675.0,1763.4 675.1,1767.9 675.9,1769.5C676.2,1770.0 676.5,1770.5 677.0,1770.7L896.5,1770.7" stroke="#000" stroke-width="3.6" fill="none"/>
<path d="M147.0,1770.7L355.0,1770.7C356.9,1771.0 360.4,1772.4 362.3,1772.8C365.5,1773.4 369.0,1773.9 372.9,1774.1C377.7,1774.3 383.3,1773.8 388.8,1773.6C394.7,1773.4 401.1,1773.2 407.3,1772.8C413.5,1772.3 419.7,1771.9 425.8,1770.9C432.0,1769.9 438.6,1768.9 444.4,1766.7C450.0,1764.6 455.3,1761.4 460.2,1758.2C465.0,1755.0 468.7,1750.7 473.5,1747.6C478.4,1744.5 484.5,1741.0 489.4,1739.7C493.2,1738.7 496.6,1738.3 499.9,1739.2C503.2,1740.1 506.6,1742.1 509.2,1745.0C512.6,1748.7 514.8,1755.1 517.1,1760.9C519.7,1767.3 521.3,1775.2 523.8,1782.0C526.2,1788.5 528.3,1796.6 531.7,1800.6C534.0,1803.3 536.5,1805.2 539.6,1805.8C543.3,1806.5 549.3,1804.8 552.9,1803.2C555.8,1801.9 557.6,1800.1 560.0,1797.9C563.1,1795.0 565.9,1790.3 569.8,1787.0C574.2,1783.3 580.4,1779.7 585.6,1777.0C590.3,1774.5 595.0,1772.9 599.5,1771.0C603.8,1769.2 608.3,1767.3 612.0,1766.0C614.9,1765.0 617.4,1763.4 620.0,1763.5C622.4,1763.5 625.1,1764.3 627.0,1766.0C629.3,1768.1 630.5,1772.0 632.0,1776.0C634.0,1781.2 635.2,1789.5 637.0,1795.0C638.5,1799.4 641.1,1804.0 641.8,1806.7C643.9,1814.9 644.7,1835.2 645.2,1840.4C645.7,1845.6 647.4,1869.0 647.9,1874.2C648.4,1879.4 650.6,1902.8 651.2,1907.9C651.8,1912.4 654.5,1930.3 655.3,1934.8C656.6,1942.0 657.5,1949.9 659.3,1955.0C660.4,1958.3 661.6,1962.3 663.4,1963.1C664.7,1963.7 666.4,1962.6 668.1,1961.8C670.4,1960.7 673.8,1959.1 675.5,1956.4C677.7,1952.9 677.5,1947.3 678.2,1941.6C679.2,1934.0 679.7,1923.6 680.2,1914.6C680.6,1905.6 680.8,1892.1 680.9,1887.6C681.1,1877.0 681.5,1859.1 681.6,1853.9C681.7,1848.7 682.1,1825.4 682.2,1820.2C682.3,1816.5 682.8,1803.7 682.9,1800.0C683.2,1788.9 683.3,1765.7 683.4,1760.0C683.5,1754.3 683.9,1725.7 684.0,1720.0C684.1,1715.2 684.4,1694.8 684.5,1690.0C684.6,1684.3 684.9,1655.7 685.0,1650.0C685.1,1644.3 685.7,1615.7 685.8,1610.0C685.9,1605.2 686.5,1584.8 686.6,1580.0C686.7,1576.3 687.1,1563.7 687.3,1560.0C687.4,1557.8 687.7,1554.5 687.8,1554.5C688.0,1554.5 688.2,1562.6 688.3,1565.0C688.6,1576.1 688.4,1613.1 688.4,1620.0C688.4,1628.7 688.5,1691.3 688.5,1700.0C688.5,1708.0 686.2,1764.7 688.7,1769.7C689.0,1770.2 689.4,1770.5 690.0,1770.7L896.5,1770.7" stroke="#ff0000" stroke-width="3.6" fill="none" stroke-dasharray="15.5 14.3"/>
<path d="M147.0,1770.7L353.5,1770.7C354.8,1771.2 356.5,1773.3 357.5,1774.5C359.0,1776.2 360.3,1779.6 362.0,1780.3C363.2,1780.8 364.6,1780.2 366.0,1780.0C367.6,1779.8 369.0,1779.4 370.9,1779.1C373.8,1778.7 378.3,1778.8 381.9,1778.0C385.6,1777.2 390.0,1774.3 392.9,1774.2C394.7,1774.1 396.0,1775.0 397.5,1775.5C398.9,1775.9 400.2,1776.9 401.7,1776.9C403.4,1776.9 405.4,1776.2 407.3,1775.3C409.8,1774.1 412.5,1771.0 415.0,1769.8C416.9,1768.9 418.4,1768.9 420.6,1768.2C424.1,1767.1 429.4,1765.2 433.8,1763.5C438.2,1761.8 442.7,1760.3 447.0,1758.2C451.5,1756.0 455.9,1753.3 460.2,1750.3C464.7,1747.2 469.0,1742.8 473.5,1739.7C477.8,1736.7 482.4,1733.3 486.7,1731.8C490.3,1730.5 493.8,1730.0 497.3,1730.4C500.9,1730.8 505.0,1731.7 507.9,1734.4C511.7,1738.1 514.6,1749.4 515.8,1752.9C518.8,1761.4 521.5,1772.8 523.8,1782.0C524.8,1786.1 527.6,1801.9 529.0,1805.8C530.2,1809.1 531.0,1812.8 533.0,1813.8C534.8,1814.7 537.7,1813.1 540.0,1812.5C542.2,1811.9 544.4,1811.0 546.5,1810.0C548.7,1808.9 550.9,1807.5 553.0,1806.0C555.3,1804.4 557.4,1802.6 559.7,1800.8C562.1,1798.9 564.4,1796.9 567.0,1795.0C569.7,1793.0 572.7,1791.2 575.6,1789.0C578.7,1786.6 581.7,1783.5 585.0,1781.0C588.4,1778.5 591.8,1776.3 595.6,1774.0C599.9,1771.4 605.8,1768.7 609.5,1766.5C612.1,1765.0 614.0,1763.5 616.0,1762.5C617.6,1761.7 619.2,1760.5 620.6,1760.8C622.3,1761.2 624.0,1763.3 625.3,1765.5C627.2,1768.7 628.1,1774.3 629.3,1779.4C630.8,1785.4 632.1,1792.5 633.3,1799.2C634.5,1806.1 636.0,1816.4 636.4,1820.2C637.5,1830.1 638.7,1848.7 639.1,1853.9C639.5,1859.7 641.4,1888.6 641.8,1894.4C642.2,1900.2 644.2,1929.0 644.5,1934.8C644.8,1940.6 646.2,1969.5 646.5,1975.3C646.8,1981.1 648.8,2009.9 649.2,2015.7C649.5,2019.9 650.6,2035.8 651.2,2040.0C652.1,2045.6 653.1,2054.5 654.6,2054.8C655.5,2055.0 657.0,2051.7 658.0,2049.4C659.4,2046.0 660.2,2040.6 661.3,2036.0C662.4,2031.2 662.7,2024.6 664.7,2021.1C666.1,2018.6 668.5,2017.7 670.1,2015.7C671.7,2013.7 673.1,2011.7 674.2,2009.0C675.6,2005.4 675.7,1999.7 676.9,1995.5C678.0,1991.7 679.1,1987.5 680.9,1984.7C682.4,1982.4 685.1,1981.8 686.3,1979.3C688.1,1975.3 687.2,1968.3 687.6,1961.8C688.1,1953.8 688.8,1939.3 689.0,1934.8C689.5,1922.7 690.1,1900.2 690.3,1894.4C690.5,1888.6 691.5,1859.7 691.7,1853.9C691.9,1848.1 692.9,1819.3 693.0,1813.5C693.2,1806.7 693.7,1766.8 693.8,1760.0C693.9,1752.7 694.2,1707.3 694.3,1700.0C694.4,1692.7 694.9,1647.3 695.0,1640.0C695.1,1634.3 695.6,1605.7 695.8,1600.0C695.9,1595.2 696.4,1574.8 696.8,1570.0C696.9,1568.3 697.3,1564.0 697.5,1564.0C697.8,1564.0 698.2,1572.5 698.3,1575.0C698.7,1584.9 698.6,1613.8 698.6,1620.0C698.6,1628.7 698.8,1691.3 698.8,1700.0C698.8,1708.0 696.3,1764.7 699.0,1769.7C699.3,1770.2 699.9,1770.5 700.5,1770.7L896.5,1770.7" stroke="#0000ff" stroke-width="3.6" fill="none" stroke-dasharray="15.2 3.6 7.4 3.6"/>
<path d="M147.0,1770.7L352.1,1770.7C353.6,1771.8 354.2,1777.8 355.0,1780.0C356.0,1782.9 356.6,1787.4 358.2,1788.5C359.2,1789.2 360.8,1788.6 362.0,1788.5C363.2,1788.4 364.3,1787.4 365.4,1787.8C366.9,1788.3 368.6,1790.6 369.8,1792.9C371.5,1796.2 372.0,1801.7 373.1,1806.2C374.2,1810.9 375.4,1816.5 376.4,1820.5C377.2,1823.5 377.7,1828.2 378.6,1828.2C379.5,1828.2 381.0,1822.9 381.9,1819.4C383.6,1812.8 384.7,1798.8 386.3,1791.8C387.3,1787.5 388.5,1784.4 389.6,1781.0C390.7,1777.8 391.6,1774.9 392.9,1772.0C394.2,1769.0 395.8,1765.9 397.3,1763.2C398.7,1760.8 400.0,1758.4 401.7,1756.5C403.3,1754.7 405.2,1753.0 407.3,1752.1C409.3,1751.2 411.6,1750.9 413.9,1751.0C416.4,1751.1 418.6,1752.5 421.6,1753.2C425.6,1754.2 431.5,1756.4 435.9,1756.0C439.9,1755.6 443.3,1753.9 447.0,1751.6C451.5,1748.8 455.7,1743.3 460.2,1739.7C464.5,1736.3 468.9,1732.9 473.5,1730.4C477.8,1728.1 482.2,1726.0 486.7,1725.1C491.0,1724.3 496.1,1723.9 499.9,1725.1C503.5,1726.3 506.7,1728.5 509.2,1731.8C512.5,1736.1 513.9,1743.4 515.8,1750.3C518.1,1758.8 520.4,1774.7 521.1,1779.4C522.7,1790.4 523.9,1803.1 525.1,1813.8C525.6,1818.2 527.0,1835.8 527.7,1840.2C528.5,1845.4 529.6,1853.5 530.4,1853.5C531.5,1853.4 532.1,1835.3 533.0,1827.0C533.8,1819.5 534.0,1810.7 535.7,1805.8C536.7,1803.0 537.5,1800.6 539.6,1799.2C542.1,1797.6 546.8,1799.0 550.2,1797.9C553.6,1796.8 556.9,1794.8 560.0,1792.6C563.4,1790.2 566.0,1786.6 569.8,1784.0C574.3,1781.0 580.4,1778.2 585.6,1776.0C590.3,1774.0 595.2,1772.6 599.5,1771.0C603.3,1769.6 606.7,1767.9 610.0,1767.0C612.8,1766.2 615.6,1765.2 618.0,1765.5C620.2,1765.7 622.5,1766.3 624.0,1768.0C626.0,1770.2 626.2,1775.3 627.3,1779.0C628.4,1782.7 629.6,1786.4 630.5,1790.0C631.3,1793.4 631.9,1796.1 632.4,1800.0C633.2,1806.8 633.5,1822.5 633.7,1827.0C634.2,1839.1 635.0,1861.6 635.1,1867.4C635.2,1873.2 635.6,1902.1 635.7,1907.9C635.8,1913.7 636.3,1942.5 636.4,1948.3C636.5,1954.1 637.6,1983.0 637.8,1988.8C638.0,1994.6 638.8,2023.4 639.1,2029.2C639.3,2034.4 640.6,2057.8 641.1,2062.9C641.5,2067.4 643.1,2089.6 644.5,2089.9C645.5,2090.1 647.5,2085.9 648.5,2083.1C650.3,2078.3 651.0,2069.3 651.9,2062.9C652.7,2057.2 653.0,2051.5 653.9,2046.7C654.6,2042.7 655.6,2039.8 656.6,2036.0C657.7,2031.8 658.1,2026.1 660.0,2022.5C661.5,2019.6 664.2,2018.0 666.1,2015.7C668.0,2013.5 670.0,2011.9 671.5,2009.0C673.9,2004.2 675.5,1996.1 676.9,1988.8C678.5,1980.5 679.0,1970.1 680.2,1961.8C681.3,1954.6 682.4,1948.3 683.6,1941.6C684.8,1934.8 686.2,1928.1 687.6,1921.3C688.9,1914.6 690.6,1907.9 691.7,1901.1C692.8,1894.4 693.7,1888.1 694.4,1880.9C695.2,1872.6 695.2,1862.9 695.7,1853.9C696.1,1844.9 696.5,1836.0 697.1,1827.0C697.7,1818.0 698.9,1804.5 699.1,1800.0C699.6,1788.0 699.5,1765.7 699.6,1760.0C699.7,1752.7 700.1,1707.3 700.2,1700.0C700.3,1694.7 700.7,1670.3 701.0,1665.0C701.2,1661.4 701.7,1646.1 702.5,1646.0C702.9,1645.9 703.8,1648.7 704.0,1650.0C705.1,1655.3 704.9,1675.2 705.0,1680.0C705.2,1689.2 702.4,1764.0 705.2,1769.7C705.4,1770.2 705.9,1770.5 706.5,1770.7L896.5,1770.7" stroke="#de7d00" stroke-width="3.6" fill="none" stroke-dasharray="4.2 3.25"/>
<path d="M684.8,1700.0C684.9,1690.7 685.6,1619.3 685.8,1610.0C685.9,1605.2 686.5,1584.8 686.6,1580.0C686.7,1576.3 687.1,1563.7 687.3,1560.0C687.4,1557.8 687.7,1554.5 687.8,1554.5C688.0,1554.5 688.2,1562.6 688.3,1565.0C688.6,1576.1 688.4,1613.1 688.4,1620.0C688.4,1628.7 688.5,1691.3 688.5,1700.0" stroke="#ff0000" stroke-width="3.6" fill="none"/>
<path d="M694.5,1680.0C694.6,1674.3 694.9,1645.7 695.0,1640.0C695.1,1634.3 695.6,1605.7 695.8,1600.0C695.9,1595.2 696.4,1574.8 696.8,1570.0C696.9,1568.3 697.3,1564.0 697.5,1564.0C697.8,1564.0 698.2,1572.5 698.3,1575.0C698.7,1584.9 698.6,1613.8 698.6,1620.0C698.6,1627.3 698.7,1672.7 698.7,1680.0" stroke="#0000ff" stroke-width="3.6" fill="none"/>
</g>
<rect x="147.0" y="1523.89" width="749.5" height="576.1099999999999" fill="none" stroke="#000" stroke-width="2.0"/>
<path d="M147.00,2100.00v7.2M147.00,1523.89v-7.2M271.92,2100.00v7.2M271.92,1523.89v-7.2M396.83,2100.00v7.2M396.83,1523.89v-7.2M521.75,2100.00v7.2M521.75,1523.89v-7.2M646.67,2100.00v7.2M646.67,1523.89v-7.2M771.58,2100.00v7.2M771.58,1523.89v-7.2M896.50,2100.00v7.2M896.50,1523.89v-7.2M147.00,2100.00h-7.2M896.50,2100.00h7.2M147.00,2017.70h-7.2M896.50,2017.70h7.2M147.00,1935.40h-7.2M896.50,1935.40h7.2M147.00,1853.10h-7.2M896.50,1853.10h7.2M147.00,1770.79h-7.2M896.50,1770.79h7.2M147.00,1688.49h-7.2M896.50,1688.49h7.2M147.00,1606.19h-7.2M896.50,1606.19h7.2M147.00,1523.89h-7.2M896.50,1523.89h7.2" stroke="#000" stroke-width="2.0" fill="none" stroke-linecap="round"/>
<text transform="translate(146.7,2158.0) scale(0.95,1)" font-size="45" text-anchor="middle">-6</text>
<text transform="translate(271.6,2158.0) scale(0.95,1)" font-size="45" text-anchor="middle">-4</text>
<text transform="translate(396.5,2158.0) scale(0.95,1)" font-size="45" text-anchor="middle">-2</text>
<text transform="translate(521.5,2158.0) scale(0.95,1)" font-size="45" text-anchor="middle">0</text>
<text transform="translate(646.4,2158.0) scale(0.95,1)" font-size="45" text-anchor="middle">2</text>
<text transform="translate(771.3,2158.0) scale(0.95,1)" font-size="45" text-anchor="middle">4</text>
<text transform="translate(896.2,2158.0) scale(0.95,1)" font-size="45" text-anchor="middle">6</text>
<text transform="translate(128.6,2114.5) scale(0.95,1)" font-size="45.3" text-anchor="end">-40</text>
<text transform="translate(128.6,2032.2) scale(0.95,1)" font-size="45.3" text-anchor="end">-30</text>
<text transform="translate(128.6,1949.9) scale(0.95,1)" font-size="45.3" text-anchor="end">-20</text>
<text transform="translate(128.6,1867.6) scale(0.95,1)" font-size="45.3" text-anchor="end">-10</text>
<text transform="translate(128.6,1785.3) scale(0.95,1)" font-size="45.3" text-anchor="end">0</text>
<text transform="translate(128.6,1703.0) scale(0.95,1)" font-size="45.3" text-anchor="end">10</text>
<text transform="translate(128.6,1620.7) scale(0.95,1)" font-size="45.3" text-anchor="end">20</text>
<text transform="translate(128.6,1538.4) scale(0.95,1)" font-size="45.3" text-anchor="end">30</text>
<text x="527.0" y="2209.8" font-size="47" text-anchor="middle"><tspan font-style="italic">x</tspan> [mm]</text>
<text transform="translate(40,1814.1) rotate(-90)" font-size="47" text-anchor="middle">u [km/s]</text>
<text transform="translate(198.8,1568.1) scale(0.955,1)" font-size="45">(c)</text>
<path d="M164.1,1931.8H201.3" stroke="#000" stroke-width="3.6" fill="none"/>
<text x="204.3" y="1945.8" font-size="39" fill="#000000">25 ns</text>
<path d="M164.1,1975.6H201.3" stroke="#ff0000" stroke-width="3.6" fill="none" stroke-dasharray="15.5 14.3"/>
<text x="204.3" y="1989.6" font-size="39" fill="#ff0000">30 ns</text>
<path d="M164.1,2019.4H201.3" stroke="#0000ff" stroke-width="3.6" fill="none" stroke-dasharray="15.2 3.6 7.4 3.6"/>
<text x="204.3" y="2033.4" font-size="39" fill="#0000ff">35 ns</text>
<path d="M164.1,2063.2H201.3" stroke="#de7d00" stroke-width="3.6" fill="none" stroke-dasharray="4.2 3.25"/>
<text x="204.3" y="2077.2" font-size="39" fill="#de7d00">40 ns</text>
</svg></body></html>
